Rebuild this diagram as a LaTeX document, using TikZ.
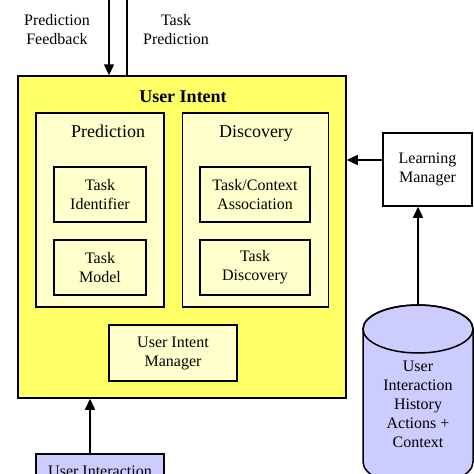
\documentclass[tikz,border=0pt]{standalone}
\usepackage{fontspec}
\setmainfont{Liberation Serif}
\usetikzlibrary{arrows.meta}
\definecolor{uiyellow}{HTML}{FFFF66}
\definecolor{paleyellow}{HTML}{FFFFCC}
\definecolor{lav}{HTML}{CCCCFF}
\begin{document}
\begin{tikzpicture}[x=1pt,y=-1pt,
  lw/.style={line width=1.5pt},
  box/.style={draw, lw, fill=paleyellow, align=center, inner sep=0pt,
    font=\fontsize{16}{19}\selectfont},
  lbl/.style={align=center, inner sep=0pt, font=\fontsize{16}{19}\selectfont},
  arr/.style={lw, -{Triangle[length=11pt,width=10pt]}}]
\useasboundingbox (0,0) rectangle (474,474);
\clip (0,0) rectangle (474,474);
\fill[white] (0,0) rectangle (474,474);

% outer User Intent box
\node[draw, lw, fill=uiyellow, minimum width=328pt, minimum height=322pt, inner sep=0pt] (outer) at (182,237) {};
\node[lbl, anchor=base, font=\fontsize{18}{21}\selectfont\bfseries] (uititle) at (183,102) {User Intent};

% Prediction group
\node[box, minimum width=128pt, minimum height=194pt] (pred) at (100,210) {};
\node[lbl, anchor=base, font=\fontsize{18}{21}\selectfont] (predlbl) at (108,137) {Prediction};
\node[box, minimum width=92pt, minimum height=55pt] (tid) at (100,194.5) {Task\\Identifier};
\node[box, minimum width=92pt, minimum height=55pt] (tmod) at (100,267.5) {Task\\Model};

% Discovery group
\node[box, minimum width=146pt, minimum height=194pt] (disc) at (255.5,210) {};
\node[lbl, anchor=base, font=\fontsize{18}{21}\selectfont] (disclbl) at (256,137) {Discovery};
\node[box, minimum width=110pt, minimum height=55pt] (tca) at (255,194.5) {Task/Context\\Association};
\node[box, minimum width=110pt, minimum height=55pt] (tdisc) at (255,267.5) {Task\\Discovery};

% User Intent Manager
\node[box, minimum width=128pt, minimum height=56pt] (uim) at (173,353) {User Intent\\Manager};

% Learning Manager
\node[box, fill=white, minimum width=89pt, minimum height=73pt] (lm) at (427.5,169.5) {Learning\\Manager};

% User Interaction
\node[draw, lw, fill=lav, minimum width=128pt, minimum height=36pt, inner sep=0pt,
  font=\fontsize{16}{19}\selectfont, anchor=north] (ui) at (100,453) {\raisebox{-3pt}{User Interaction}};

% Cylinder
\draw[lw, fill=lav] (363,329) -- (363,462)
  arc[start angle=180, end angle=0, x radius=55, y radius=24]
  -- (473,329) arc[start angle=0, end angle=-180, x radius=55, y radius=24] -- cycle;
\draw[lw] (418,329) ellipse[x radius=55, y radius=24];
\node[lbl] (hist) at (418,404) {User\\Interaction\\History\\Actions +\\Context};
\coordinate (cyltop) at (418,305);

% top labels
\node[lbl] (pflbl) at (57,29.5) {Prediction\\Feedback};
\node[lbl] (tplbl) at (176,29.5) {Task\\Prediction};

% connectors
\coordinate (pf) at (109,-2);
\draw[arr] (pf) -- (pf |- outer.north);
\coordinate (tp) at (127,-2);
\draw[lw] (tp |- outer.north) -- (tp);
\coordinate (lmarr) at (383,160);
\draw[arr] (lmarr) -- (lmarr -| outer.east);
\draw[arr] (cyltop) -- (cyltop |- lm.south);
\coordinate (uiarr) at (90,453);
\draw[arr] (uiarr) -- (uiarr |- outer.south);
\end{tikzpicture}
\end{document}
